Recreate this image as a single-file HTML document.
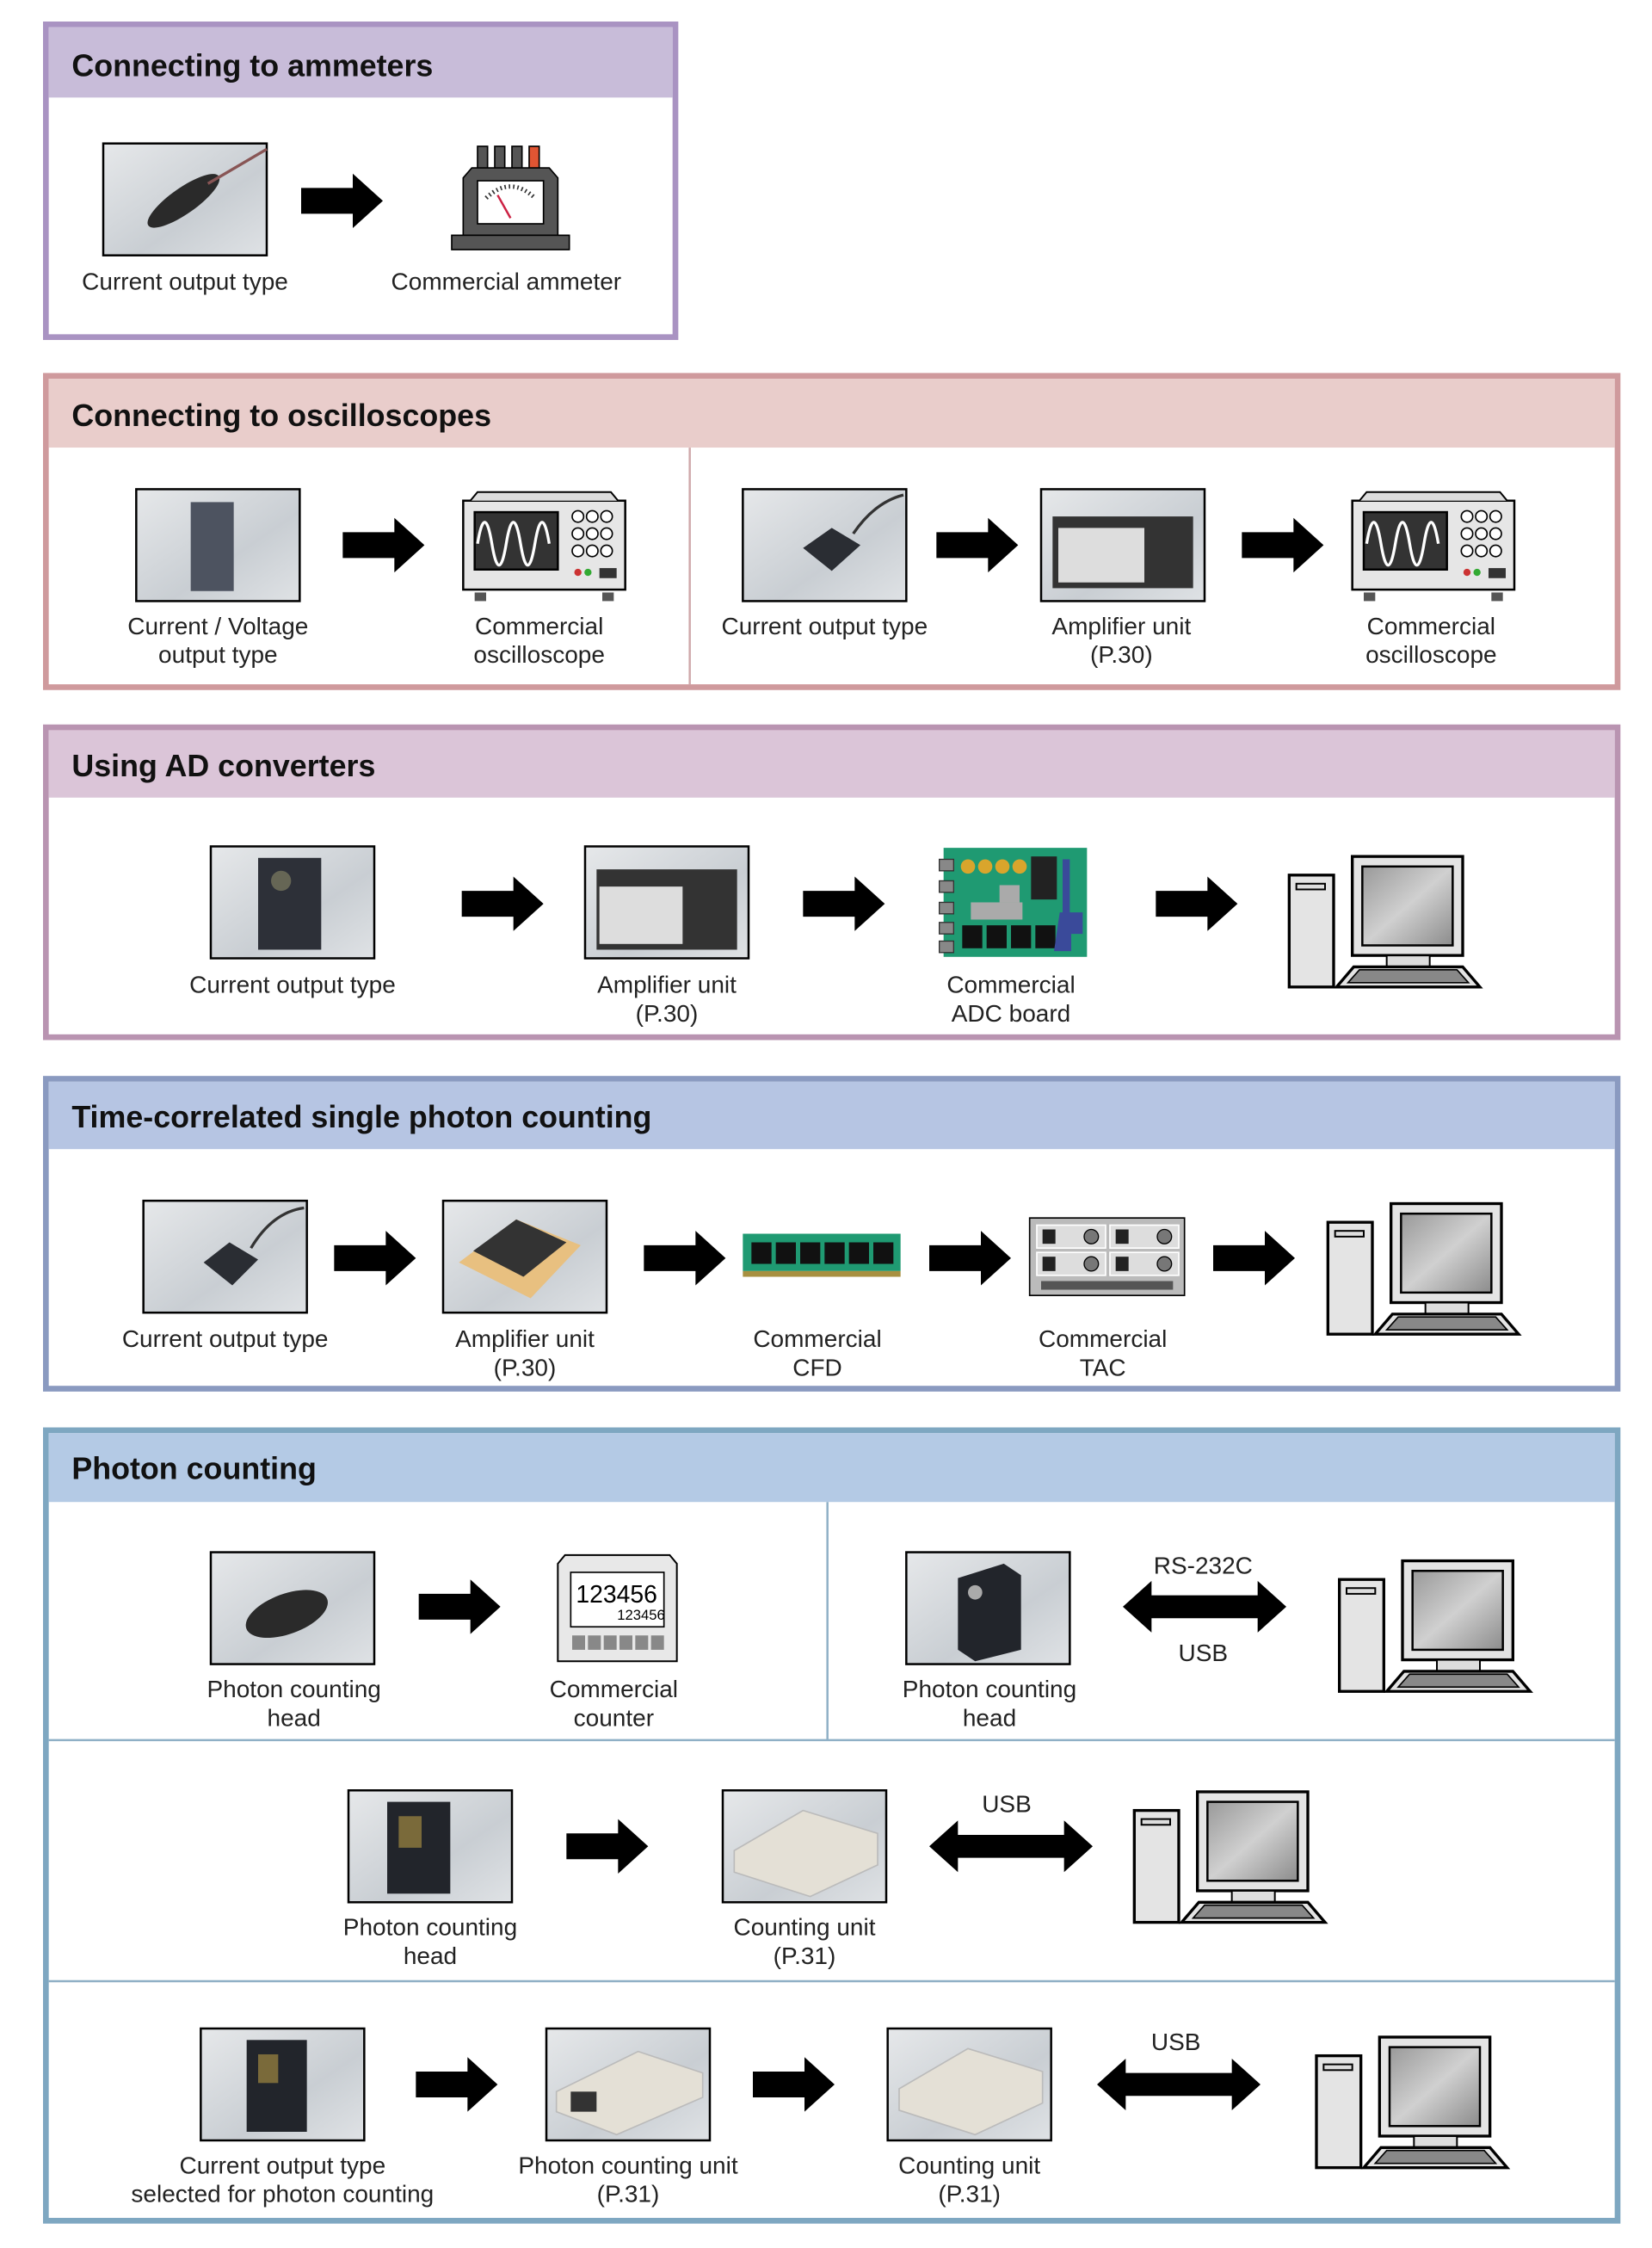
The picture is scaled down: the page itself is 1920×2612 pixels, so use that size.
<!DOCTYPE html>
<html><head><meta charset="utf-8"><style>
html,body{margin:0;padding:0;background:#fff;width:1920px;height:2612px;overflow:hidden}
svg{display:block}
text{font-family:"Liberation Sans",Arial,sans-serif}
.t{font-size:21.5px;font-weight:bold;fill:#111}
.l{font-size:16.8px;fill:#222;text-anchor:middle}
</style></head><body>
<svg width="1920" height="2612" viewBox="0 0 1152 1567" preserveAspectRatio="none" xmlns="http://www.w3.org/2000/svg">
<defs>
<linearGradient id="pg" x1="0" y1="0" x2="1" y2="1"><stop offset="0" stop-color="#e6e8ea"/><stop offset="0.6" stop-color="#c9ced3"/><stop offset="1" stop-color="#dfe2e5"/></linearGradient>
<linearGradient id="sg" x1="0" y1="0" x2="1" y2="1"><stop offset="0" stop-color="#999"/><stop offset="0.5" stop-color="#d0d0d0"/><stop offset="1" stop-color="#8c8c8c"/></linearGradient>
<g id="ar"><path d="M0,-9 H36 V-19 L57,0 L36,19 V9 H0 Z" fill="#000"/></g>
<g id="dar"><path d="M0,0 L20,-18 V-8 H94 V-18 L114,0 L94,18 V8 H20 V18 Z" fill="#000"/></g>
<g id="pc">
<rect x="1" y="14" width="31" height="78" fill="#e4e4e4" stroke="#000" stroke-width="2"/>
<rect x="6" y="20" width="20" height="4" fill="#ddd" stroke="#000" stroke-width="1.2"/>
<rect x="45" y="1" width="77" height="69" fill="#e4e4e4" stroke="#000" stroke-width="2"/>
<rect x="52" y="8" width="63" height="55" fill="url(#sg)" stroke="#000" stroke-width="1.5"/>
<rect x="69" y="70" width="30" height="8" fill="#ddd" stroke="#000" stroke-width="1.2"/>
<path d="M46,78 H122 L134,92 H34 Z" fill="#e4e4e4" stroke="#000" stroke-width="2"/>
<path d="M50,80 H118 L126,89 H42 Z" fill="#888" stroke="#000" stroke-width="1"/>
</g>
<g id="ph"><rect x="0" y="0" width="114" height="78" fill="url(#pg)" stroke="#000" stroke-width="1.5"/></g>
<g id="scope">
<rect x="0" y="6" width="113" height="62" fill="#e6e6e6" stroke="#000" stroke-width="1.5"/>
<path d="M5,6 L10,0 H103 L108,6" fill="#ddd" stroke="#000" stroke-width="1.2"/>
<rect x="8" y="14" width="58" height="40" fill="#333" stroke="#000" stroke-width="1.5"/>
<path d="M10,36 q5,-30 10,0 t10,0 t10,0 t10,0 t10,0" fill="none" stroke="#fff" stroke-width="2"/>
<g fill="#fff" stroke="#000" stroke-width="1"><circle cx="80" cy="17" r="4"/><circle cx="90" cy="17" r="4"/><circle cx="100" cy="17" r="4"/><circle cx="80" cy="29" r="4"/><circle cx="90" cy="29" r="4"/><circle cx="100" cy="29" r="4"/><circle cx="80" cy="41" r="4"/><circle cx="90" cy="41" r="4"/><circle cx="100" cy="41" r="4"/></g>
<circle cx="80" cy="56" r="2.5" fill="#c33"/><circle cx="87" cy="56" r="2.5" fill="#3a3"/>
<rect x="95" y="53" width="12" height="7" fill="#333"/>
<rect x="8" y="70" width="8" height="6" fill="#555"/><rect x="97" y="70" width="8" height="6" fill="#555"/>
</g>
</defs>

<!-- Box 1 -->
<rect x="32" y="17" width="439" height="218" fill="#fff" stroke="#a993c2" stroke-width="4"/>
<rect x="34" y="19" width="435" height="49" fill="#c8bcd9"/>
<text class="t" x="50" y="53">Connecting to ammeters</text>
<use href="#ph" x="72" y="100"/>
<ellipse cx="128" cy="140" rx="30" ry="9" transform="rotate(-35 128 140)" fill="#2a2a2a"/>
<line x1="145" y1="128" x2="186" y2="104" stroke="#855" stroke-width="2"/>
<use href="#ar" x="210" y="140"/>
<g transform="translate(315,102)">
<rect x="18" y="0" width="7" height="16" fill="#555" stroke="#000"/><rect x="30" y="0" width="7" height="16" fill="#555" stroke="#000"/><rect x="42" y="0" width="7" height="16" fill="#555" stroke="#000"/><rect x="54" y="0" width="7" height="16" fill="#e05533" stroke="#000"/>
<path d="M8,22 L14,15 H68 L74,22 V62 H8 Z" fill="#555" stroke="#000"/>
<rect x="18" y="24" width="46" height="30" fill="#fff" stroke="#000"/>
<path d="M24,36 Q41,20 58,36" fill="none" stroke="#333" stroke-width="3" stroke-dasharray="1 2"/>
<line x1="41" y1="50" x2="32" y2="34" stroke="#c24" stroke-width="1.5"/>
<rect x="0" y="62" width="82" height="10" fill="#555" stroke="#000"/>
</g>
<text class="l" x="129" y="202">Current output type</text>
<text class="l" x="353" y="202">Commercial ammeter</text>

<!-- Box 2 -->
<rect x="32" y="262" width="1096" height="217" fill="#fff" stroke="#cf9a9d" stroke-width="4"/>
<rect x="34" y="264" width="1092" height="48" fill="#e9cdcb"/>
<line x1="481" y1="312" x2="481" y2="477" stroke="#cfa9ab" stroke-width="1.5"/>
<text class="t" x="50" y="297">Connecting to oscilloscopes</text>
<use href="#ph" x="95" y="341"/><rect x="133" y="350" width="30" height="62" fill="#4d5360"/>
<use href="#ar" x="239" y="380"/>
<use href="#scope" x="323" y="343"/>
<text class="l" x="152" y="442">Current / Voltage</text><text class="l" x="152" y="462">output type</text>
<text class="l" x="376" y="442">Commercial</text><text class="l" x="376" y="462">oscilloscope</text>
<use href="#ph" x="518" y="341"/><path d="M560,382 L580,368 L600,380 L580,398 Z" fill="#2a2d33"/><path d="M595,372 Q610,350 630,345" stroke="#333" fill="none" stroke-width="2"/>
<use href="#ar" x="653" y="380"/>
<use href="#ph" x="726" y="341"/><rect x="734" y="360" width="98" height="50" fill="#333"/><rect x="738" y="368" width="60" height="38" fill="#ddd"/>
<use href="#ar" x="866" y="380"/>
<use href="#scope" x="943" y="343"/>
<text class="l" x="575" y="442">Current output type</text>
<text class="l" x="782" y="442">Amplifier unit</text><text class="l" x="782" y="462">(P.30)</text>
<text class="l" x="998" y="442">Commercial</text><text class="l" x="998" y="462">oscilloscope</text>

<!-- Box 3 -->
<rect x="32" y="507" width="1096" height="216" fill="#fff" stroke="#b994b1" stroke-width="4"/>
<rect x="34" y="509" width="1092" height="47" fill="#dbc5d8"/>
<text class="t" x="50" y="541">Using AD converters</text>
<use href="#ph" x="147" y="590"/><rect x="180" y="598" width="44" height="64" fill="#2d3038"/><circle cx="196" cy="614" r="7" fill="#665"/>
<use href="#ar" x="322" y="630"/>
<use href="#ph" x="408" y="590"/><rect x="416" y="606" width="98" height="56" fill="#333"/><rect x="418" y="618" width="58" height="40" fill="#ddd"/>
<use href="#ar" x="560" y="630"/>
<g transform="translate(655,591)">
<rect x="3" y="0" width="100" height="76" fill="#1f9a72"/>
<g fill="#888" stroke="#333" stroke-width="0.8"><rect x="0" y="8" width="10" height="8"/><rect x="0" y="23" width="10" height="8"/><rect x="0" y="38" width="10" height="8"/><rect x="0" y="52" width="10" height="8"/><rect x="0" y="65" width="10" height="8"/></g>
<g fill="#d9a52c"><circle cx="20" cy="13" r="5"/><circle cx="32" cy="13" r="5"/><circle cx="44" cy="13" r="5"/><circle cx="56" cy="13" r="5"/></g>
<rect x="64" y="6" width="18" height="30" fill="#222"/><rect x="86" y="8" width="5" height="40" fill="#3a4a9a"/>
<rect x="22" y="38" width="36" height="12" fill="#aaa"/><rect x="42" y="26" width="14" height="12" fill="#aaa"/>
<g fill="#111"><rect x="16" y="54" width="14" height="16"/><rect x="33" y="54" width="14" height="16"/><rect x="50" y="54" width="14" height="16"/><rect x="67" y="54" width="14" height="16"/></g>
<path d="M84,45 H100 V60 H92 V72 H80 Z" fill="#3a4a9a"/>
</g>
<use href="#ar" x="806" y="630"/>
<use href="#pc" x="898" y="596"/>
<text class="l" x="204" y="692">Current output type</text>
<text class="l" x="465" y="692">Amplifier unit</text><text class="l" x="465" y="712">(P.30)</text>
<text class="l" x="705" y="692">Commercial</text><text class="l" x="705" y="712">ADC board</text>

<!-- Box 4 -->
<rect x="32" y="752" width="1096" height="216" fill="#fff" stroke="#8a9ac0" stroke-width="4"/>
<rect x="34" y="754" width="1092" height="47" fill="#b6c5e3"/>
<text class="t" x="50" y="786">Time-correlated single photon counting</text>
<use href="#ph" x="100" y="837"/><path d="M142,880 L160,866 L180,878 L162,896 Z" fill="#2a2d33"/><path d="M175,870 Q190,845 212,842" stroke="#333" fill="none" stroke-width="2"/>
<use href="#ar" x="233" y="877"/>
<use href="#ph" x="309" y="837"/><path d="M320,880 L360,850 L405,868 L370,905 Z" fill="#e8c080"/><path d="M330,872 L360,850 L395,866 L365,890 Z" fill="#333"/>
<use href="#ar" x="449" y="877"/>
<g transform="translate(518,860)"><rect x="0" y="0" width="110" height="26" fill="#1f9a72"/><rect x="0" y="26" width="110" height="4" fill="#a89040"/><g fill="#111"><rect x="6" y="6" width="14" height="15"/><rect x="23" y="6" width="14" height="15"/><rect x="40" y="6" width="14" height="15"/><rect x="57" y="6" width="14" height="15"/><rect x="74" y="6" width="14" height="15"/><rect x="91" y="6" width="14" height="15"/></g></g>
<use href="#ar" x="648" y="877"/>
<g transform="translate(718,849)"><rect x="0" y="0" width="108" height="54" fill="#bbb" stroke="#000" stroke-width="1"/>
<g fill="#ddd" stroke="#fff"><rect x="5" y="5" width="48" height="16"/><rect x="56" y="5" width="48" height="16"/><rect x="5" y="24" width="48" height="16"/><rect x="56" y="24" width="48" height="16"/></g>
<g fill="#777" stroke="#000" stroke-width="0.8"><circle cx="43" cy="13" r="5"/><circle cx="94" cy="13" r="5"/><circle cx="43" cy="32" r="5"/><circle cx="94" cy="32" r="5"/></g>
<g fill="#222"><rect x="9" y="8" width="9" height="10"/><rect x="60" y="8" width="9" height="10"/><rect x="9" y="27" width="9" height="10"/><rect x="60" y="27" width="9" height="10"/></g>
<rect x="8" y="44" width="92" height="6" fill="#555"/></g>
<use href="#ar" x="846" y="877"/>
<use href="#pc" x="925" y="838"/>
<text class="l" x="157" y="939">Current output type</text>
<text class="l" x="366" y="939">Amplifier unit</text><text class="l" x="366" y="959">(P.30)</text>
<text class="l" x="570" y="939">Commercial</text><text class="l" x="570" y="959">CFD</text>
<text class="l" x="769" y="939">Commercial</text><text class="l" x="769" y="959">TAC</text>

<!-- Box 5 -->
<rect x="32" y="997" width="1096" height="551" fill="#fff" stroke="#7ea7c1" stroke-width="4"/>
<rect x="34" y="999" width="1092" height="48" fill="#b4cae5"/>
<text class="t" x="50" y="1031">Photon counting</text>
<line x1="577" y1="1047" x2="577" y2="1213" stroke="#8fb0c6" stroke-width="1.5"/>
<line x1="34" y1="1213" x2="1126" y2="1213" stroke="#8fb0c6" stroke-width="1.5"/>
<line x1="34" y1="1381" x2="1126" y2="1381" stroke="#8fb0c6" stroke-width="1.5"/>

<use href="#ph" x="147" y="1082"/><ellipse cx="200" cy="1125" rx="30" ry="14" transform="rotate(-20 200 1125)" fill="#2a2a2a"/>
<use href="#ar" x="292" y="1120"/>
<g transform="translate(389,1084)"><path d="M0,6 L5,0 H78 L83,6 V74 H0 Z" fill="#e8e8e8" stroke="#000" stroke-width="1.2"/><rect x="9" y="12" width="65" height="38" fill="#fff" stroke="#000"/>
<text x="41" y="33" font-size="17" text-anchor="middle" fill="#000">123456</text><text x="58" y="45" font-size="10" text-anchor="middle" fill="#000">123456</text>
<g fill="#888"><rect x="10" y="56" width="9" height="10"/><rect x="21" y="56" width="9" height="10"/><rect x="32" y="56" width="9" height="10"/><rect x="43" y="56" width="9" height="10"/><rect x="54" y="56" width="9" height="10"/><rect x="65" y="56" width="9" height="10"/></g></g>
<use href="#ph" x="632" y="1082"/><path d="M668,1100 L700,1090 L712,1098 L712,1150 L680,1158 L668,1150 Z" fill="#22252b"/><circle cx="680" cy="1110" r="5" fill="#aaa"/>
<use href="#dar" x="783" y="1120"/>
<text class="l" x="839" y="1097">RS-232C</text><text class="l" x="839" y="1158">USB</text>
<use href="#pc" x="933" y="1087"/>
<text class="l" x="205" y="1183">Photon counting</text><text class="l" x="205" y="1203">head</text>
<text class="l" x="428" y="1183">Commercial</text><text class="l" x="428" y="1203">counter</text>
<text class="l" x="690" y="1183">Photon counting</text><text class="l" x="690" y="1203">head</text>

<use href="#ph" x="243" y="1248"/><rect x="270" y="1256" width="44" height="64" fill="#22252b"/><rect x="278" y="1266" width="16" height="22" fill="#7a6a3a"/>
<use href="#ar" x="395" y="1287"/>
<use href="#ph" x="504" y="1248"/><path d="M512,1290 L560,1262 L612,1278 L612,1300 L565,1322 L512,1305 Z" fill="#e4e0d6" stroke="#bbb"/>
<use href="#dar" x="648" y="1287"/>
<text class="l" x="702" y="1263">USB</text>
<use href="#pc" x="790" y="1248"/>
<text class="l" x="300" y="1349">Photon counting</text><text class="l" x="300" y="1369">head</text>
<text class="l" x="561" y="1349">Counting unit</text><text class="l" x="561" y="1369">(P.31)</text>

<use href="#ph" x="140" y="1414"/><rect x="172" y="1422" width="42" height="64" fill="#22252b"/><rect x="180" y="1432" width="14" height="20" fill="#7a6a3a"/>
<use href="#ar" x="290" y="1453"/>
<use href="#ph" x="381" y="1414"/><path d="M388,1458 L445,1430 L490,1445 L490,1462 L430,1488 L388,1472 Z" fill="#e4e0d6" stroke="#bbb"/><rect x="398" y="1458" width="18" height="14" fill="#333"/>
<use href="#ar" x="525" y="1453"/>
<use href="#ph" x="619" y="1414"/><path d="M627,1456 L675,1428 L727,1444 L727,1466 L680,1488 L627,1471 Z" fill="#e4e0d6" stroke="#bbb"/>
<use href="#dar" x="765" y="1453"/>
<text class="l" x="820" y="1429">USB</text>
<use href="#pc" x="917" y="1419"/>
<text class="l" x="197" y="1515">Current output type</text><text class="l" x="197" y="1535">selected for photon counting</text>
<text class="l" x="438" y="1515">Photon counting unit</text><text class="l" x="438" y="1535">(P.31)</text>
<text class="l" x="676" y="1515">Counting unit</text><text class="l" x="676" y="1535">(P.31)</text>
</svg>
</body></html>
